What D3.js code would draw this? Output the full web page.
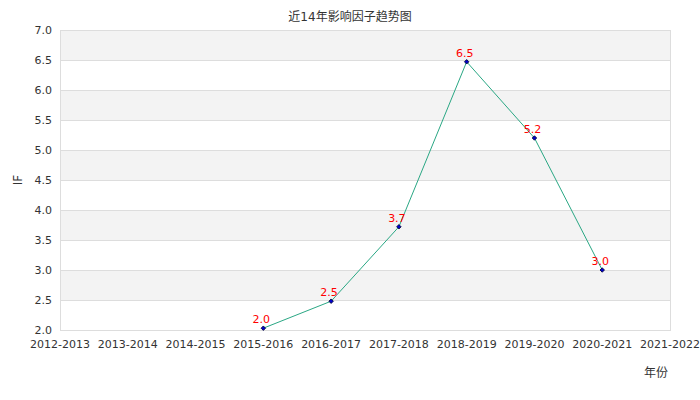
<!DOCTYPE html>
<html>
<head>
<meta charset="utf-8">
<script src="https://cdn.jsdelivr.net/npm/d3@7"></script>
<style>
  body { margin: 0; background: #fff; }
  text { font-family: "DejaVu Sans", "Noto Sans CJK SC", sans-serif; }
</style>
</head>
<body>
<svg id="chart"></svg>
<script>
var years = ["2012-2013", "2013-2014", "2014-2015", "2015-2016", "2016-2017",
             "2017-2018", "2018-2019", "2019-2020", "2020-2021", "2021-2022"];
var ifYears = ["2015-2016", "2016-2017", "2017-2018", "2018-2019", "2019-2020", "2020-2021"];
var ifValues = [2.03, 2.48, 3.72, 6.47, 5.2, 3.0];
var yTicks = [2.0, 2.5, 3.0, 3.5, 4.0, 4.5, 5.0, 5.5, 6.0, 6.5, 7.0];

var width = 700;
var height = 400;
var margin = { top: 30, left: 60, bottom: 70, right: 30 };

var svg = d3.select("#chart")
            .attr("width", width)
            .attr("height", height);

var x = d3.scalePoint()
          .domain(years)
          .range([margin.left, width - margin.right]);
var y = d3.scaleLinear()
          .domain([2, 7])
          .range([height - margin.bottom, margin.top]);

// stripes
var bands = d3.pairs(yTicks);
svg.selectAll(".band")
    .data(bands)
    .enter()
    .append("rect")
    .attr("x", margin.left)
    .attr("width", width - margin.right - margin.left)
    .attr("y", function (d) { return y(d[1]); })
    .attr("height", function (d) { return y(d[0]) - y(d[1]); })
    .attr("fill", function (d, i) { return (i % 2 == 0 ? "#ffffff" : "#f3f3f3"); });

// grid lines
svg.selectAll(".grid")
    .data(yTicks)
    .enter()
    .append("line")
    .attr("x1", margin.left)
    .attr("x2", width - margin.right)
    .attr("y1", function (d) { return y(d) + 0.5; })
    .attr("y2", function (d) { return y(d) + 0.5; })
    .attr("stroke", "#dddddd");

// plot border
svg.append("rect")
    .attr("x", margin.left + 0.5)
    .attr("y", margin.top + 0.5)
    .attr("width", width - margin.right - margin.left)
    .attr("height", height - margin.bottom - margin.top)
    .attr("fill", "none")
    .attr("stroke", "#dddddd");

// y axis labels
svg.selectAll(".ylab")
    .data(yTicks)
    .enter()
    .append("text")
    .attr("x", margin.left - 8)
    .attr("y", function (d) { return y(d) + 4; })
    .attr("text-anchor", "end")
    .attr("font-size", 11)
    .attr("fill", "#333")
    .text(function (d) { return d3.format(".1f")(d); });

// x axis labels
svg.selectAll(".xlab")
    .data(years)
    .enter()
    .append("text")
    .attr("x", function (d) { return x(d); })
    .attr("y", height - margin.bottom + 18)
    .attr("text-anchor", "middle")
    .attr("font-size", 11)
    .attr("fill", "#333")
    .text(function (d) { return d; });

// titles
svg.append("text")
    .attr("x", width / 2)
    .attr("y", 21)
    .attr("text-anchor", "middle")
    .attr("font-size", 12)
    .attr("fill", "#333")
    .text("近14年影响因子趋势图");

svg.append("text")
    .attr("transform", "translate(22, " + (margin.top + (height - margin.bottom - margin.top) / 2) + ") rotate(-90)")
    .attr("text-anchor", "middle")
    .attr("font-size", 12)
    .attr("fill", "#333")
    .text("IF");

svg.append("text")
    .attr("x", 656)
    .attr("y", 377)
    .attr("text-anchor", "middle")
    .attr("font-size", 12)
    .attr("fill", "#333")
    .text("年份");

var pts = ifYears.map(function (d, i) { return { year: d, value: ifValues[i] }; });

var line = d3.line()
             .x(function (d) { return x(d.year); })
             .y(function (d) { return y(d.value); });

svg.append("path")
    .datum(pts)
    .attr("fill", "none")
    .attr("stroke", "#2aa784")
    .attr("stroke-width", 1)
    .attr("d", line);

svg.selectAll(".pt")
    .data(pts)
    .enter()
    .append("path")
    .attr("d", d3.symbol().type(d3.symbolSquare).size(10))
    .attr("transform", function (d) { return "translate(" + x(d.year) + "," + y(d.value) + ") rotate(45)"; })
    .attr("fill", "#0000cc")
    .attr("stroke", "#000033")
    .attr("stroke-width", 0.8);

svg.selectAll(".val")
    .data(pts)
    .enter()
    .append("text")
    .attr("x", function (d) { return x(d.year) - 2; })
    .attr("y", function (d) { return y(d.value) - 5; })
    .attr("text-anchor", "middle")
    .attr("font-size", 11)
    .attr("fill", "red")
    .text(function (d) { return d3.format(".1f")(d.value); });
</script>
</body>
</html>
